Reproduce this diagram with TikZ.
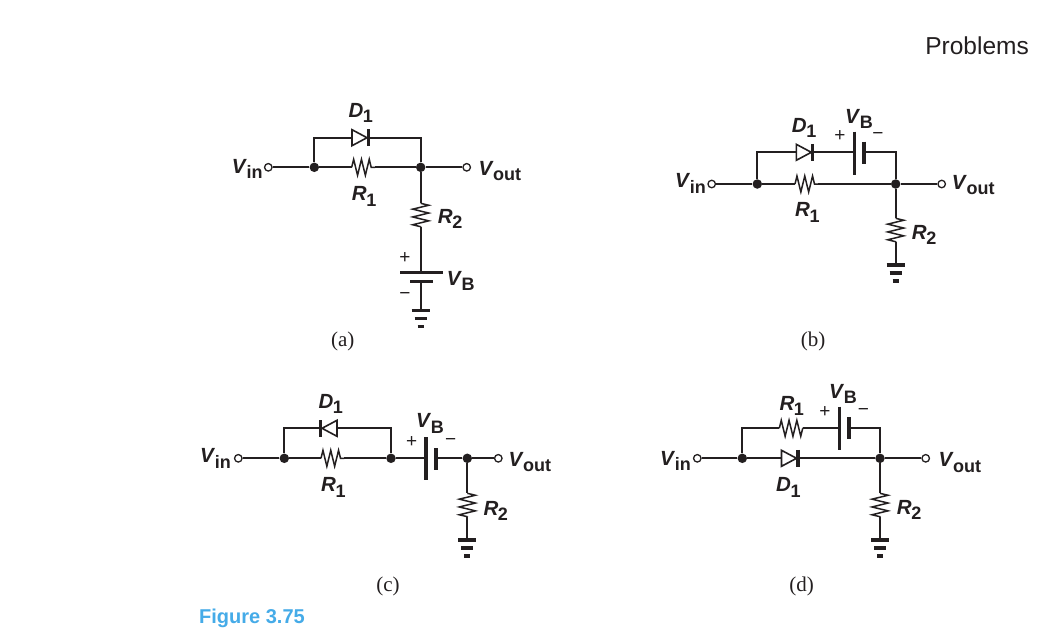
\documentclass[tikz,border=0pt]{standalone}
\usepackage{fontspec}
\setmainfont{Liberation Sans}
\newfontfamily\capfont{Liberation Serif}
\usetikzlibrary{decorations.pathmorphing}
\definecolor{ink}{HTML}{231F20}
\definecolor{figblue}{HTML}{45ABE8}
\newcommand{\sym}[2]{\fontsize{20.5}{20.5}\selectfont\textbf{\textit{#1}}\kern-0.4pt\raisebox{-5.6pt}{\fontsize{18}{18}\selectfont\textbf{#2}}}
\tikzset{
  x=1pt,y=-1pt,
  wire/.style={draw=ink,line width=1.7pt},
  res/.style={draw=ink,line width=1.5pt,line join=miter,decorate,decoration={zigzag,segment length=7.8pt,amplitude=8pt}},
  plate/.style={draw=ink,line width=3.4pt},
  dot/.style={circle,fill=ink,draw=none,minimum size=9.5pt,inner sep=0pt},
  term/.style={circle,draw=ink,fill=white,line width=1.3pt,minimum size=7.5pt,inner sep=0pt},
  lab/.style={anchor=base west,inner sep=0pt,text=ink},
  pol/.style={inner sep=0pt,text=ink,font=\fontsize{19}{19}\selectfont},
  capt/.style={inner sep=0pt,text=ink,font=\capfont\fontsize{21}{21}\selectfont},
  diode/.pic={
    \draw[draw=ink,line width=1.6pt,fill=white,line join=miter] (-16,-8) -- (-16,8) -- (-1,0) -- cycle;
    \draw[draw=ink,line width=3.2pt] (0.5,-8.5) -- (0.5,8.5);
  },
  gnd/.pic={
    \draw[draw=ink,line width=3.2pt] (-9,0) -- (9,0);
    \draw[draw=ink,line width=3.2pt] (-6,8) -- (6,8);
    \draw[draw=ink,line width=3.4pt] (-3,16) -- (3,16);
  }
}
\begin{document}
\begin{tikzpicture}
\useasboundingbox (0,0) rectangle (1058,630);
\fill[white] (0,0) rectangle (1058,630);

\node[anchor=base east,inner sep=0pt,text=ink,font=\fontsize{24.5}{24.5}\selectfont] (title) at (1029,54) {Problems};
\node[anchor=base west,inner sep=0pt,text=figblue,font=\fontsize{20}{20}\selectfont\bfseries] (fig) at (199,623) {Figure 3.75};

% ---------- (a)
\node[term] (ain) at (268.3,167.3) {};
\node[dot] (aj1) at (314.3,167.3) {};
\node[dot] (aj2) at (420.7,167.3) {};
\node[term] (aout) at (466.7,167.3) {};
\coordinate (atl) at (314.3,137.7);
\coordinate (atr) at (420.7,137.7);
\coordinate (ada) at (352,137.7);
\coordinate (adb) at (368,137.7);
\coordinate (ara) at (351.7,167.3);
\coordinate (arb) at (375,167.3);
\coordinate (asa) at (420.7,203.3);
\coordinate (asb) at (420.7,226.7);
\coordinate (abig) at (420.7,272.3);
\coordinate (asm) at (420.7,281.7);
\coordinate (ag) at (420.7,310.5);
\draw[wire] (ain) -- (aj1) -- (ara);
\draw[res] (ara) -- (arb);
\draw[wire] (arb) -- (aj2) -- (aout);
\draw[wire] (aj1) -- (atl) -- (ada);
\draw[wire] (adb) -- (atr) -- (aj2);
\pic at (adb) {diode};
\draw[wire] (aj2) -- (asa);
\draw[res] (asa) -- (asb);
\draw[wire] (asb) -- (abig);
\draw[wire] (asm) -- (ag);
\draw[plate] (400,272.3) -- (443.3,272.3);
\draw[plate] (410,281.7) -- (433.3,281.7);
\pic at (ag) {gnd};
\node[lab] (avin) at (231.7,173.3) {\sym{V}{in}};
\node[lab] (avout) at (478.3,175) {\sym{V}{out}};
\node[lab] (ad1) at (348.3,117) {\sym{D}{1}};
\node[lab] (ar1) at (351.7,200.7) {\sym{R}{1}};
\node[lab] (ar2) at (437.7,223.3) {\sym{R}{2}};
\node[lab] (avb) at (446.7,285) {\sym{V}{B}};
\node[pol] (ap) at (405,258) {+};
\node[pol] (am) at (405,296) {−};
\node[capt] (acap) at (342.7,341) {(a)};

% ---------- (b)
\node[term] (bin) at (711.7,184) {};
\node[dot] (bj1) at (757.3,184) {};
\node[dot] (bj2) at (895.7,184) {};
\node[term] (bout) at (941.7,184) {};
\coordinate (btl) at (757.3,152.3);
\coordinate (btr) at (895.7,152.3);
\coordinate (bda) at (796,152.3);
\coordinate (bdb) at (812.3,152.3);
\coordinate (bbig) at (854.3,152.3);
\coordinate (bsm) at (864,152.3);
\coordinate (bra) at (795,184);
\coordinate (brb) at (818.3,184);
\coordinate (bsa) at (895.7,218.3);
\coordinate (bsb) at (895.7,242);
\coordinate (bg) at (895.7,265);
\draw[wire] (bin) -- (bj1) -- (bra);
\draw[res] (bra) -- (brb);
\draw[wire] (brb) -- (bj2) -- (bout);
\draw[wire] (bj1) -- (btl) -- (bda);
\draw[wire] (bdb) -- (bbig);
\draw[wire] (bsm) -- (btr) -- (bj2);
\pic at (bdb) {diode};
\draw[plate] (854.3,131.5) -- (854.3,175);
\draw[plate] (864,141.7) -- (864,164);
\draw[wire] (bj2) -- (bsa);
\draw[res] (bsa) -- (bsb);
\draw[wire] (bsb) -- (bg);
\pic at (bg) {gnd};
\node[lab] (bvin) at (675,187.7) {\sym{V}{in}};
\node[lab] (bvout) at (951.7,189) {\sym{V}{out}};
\node[lab] (bd1) at (791.7,132.3) {\sym{D}{1}};
\node[lab] (br1) at (795,216.7) {\sym{R}{1}};
\node[lab] (br2) at (911.7,239.3) {\sym{R}{2}};
\node[lab] (bvb) at (845,123.3) {\sym{V}{B}};
\node[pol] (bp) at (840,136) {+};
\node[pol] (bm) at (878,136) {−};
\node[capt] (bcap) at (813,341) {(b)};

% ---------- (c)
\node[term] (cin) at (238.3,458.3) {};
\node[dot] (cj1) at (284.3,458.3) {};
\node[dot] (cj2) at (391,458.3) {};
\node[dot] (cj3) at (467.3,458.3) {};
\node[term] (cout) at (498.3,458.3) {};
\coordinate (ctl) at (284.3,428.3);
\coordinate (ctr) at (391,428.3);
\coordinate (cda) at (321,428.3);
\coordinate (cdb) at (338,428.3);
\coordinate (cra) at (321,458.3);
\coordinate (crb) at (344.3,458.3);
\coordinate (cbig) at (426,458.3);
\coordinate (csm) at (436,458.3);
\coordinate (csa) at (467.3,493.3);
\coordinate (csb) at (467.3,516.7);
\coordinate (cg) at (467.3,540);
\draw[wire] (cin) -- (cj1) -- (cra);
\draw[res] (cra) -- (crb);
\draw[wire] (crb) -- (cj2) -- (cbig);
\draw[wire] (csm) -- (cj3) -- (cout);
\draw[wire] (cj1) -- (ctl) -- (cda);
\draw[wire] (cdb) -- (ctr) -- (cj2);
\pic[rotate=180] at (cda) {diode};
\draw[plate] (426,437.3) -- (426,480);
\draw[plate] (436,448.3) -- (436,470);
\draw[wire] (cj3) -- (csa);
\draw[res] (csa) -- (csb);
\draw[wire] (csb) -- (cg);
\pic at (cg) {gnd};
\node[lab] (cvin) at (200,462.7) {\sym{V}{in}};
\node[lab] (cvout) at (508.3,466) {\sym{V}{out}};
\node[lab] (cd1) at (318.3,408.3) {\sym{D}{1}};
\node[lab] (cr1) at (321,491.7) {\sym{R}{1}};
\node[lab] (cr2) at (483.3,515) {\sym{R}{2}};
\node[lab] (cvb) at (416,427.7) {\sym{V}{B}};
\node[pol] (cp) at (411.7,442.3) {+};
\node[pol] (cm) at (450.7,442.3) {−};
\node[capt] (ccap) at (388,586) {(c)};

% ---------- (d)
\node[term] (din) at (697.3,458.3) {};
\node[dot] (dj1) at (742.3,458.3) {};
\node[dot] (dj2) at (880,458.3) {};
\node[term] (dout) at (925.7,458.3) {};
\coordinate (dtl) at (742.3,428.3);
\coordinate (dtr) at (880,428.3);
\coordinate (dra) at (779.3,428.3);
\coordinate (drb) at (802.7,428.3);
\coordinate (dbig) at (839.3,428.3);
\coordinate (dsm) at (849,428.3);
\coordinate (dda) at (781,458.3);
\coordinate (ddb) at (797.5,458.3);
\coordinate (dsa) at (880,493.3);
\coordinate (dsb) at (880,516.7);
\coordinate (dg) at (880,540);
\draw[wire] (din) -- (dj1) -- (dda);
\draw[wire] (ddb) -- (dj2) -- (dout);
\pic at (ddb) {diode};
\draw[wire] (dj1) -- (dtl) -- (dra);
\draw[res] (dra) -- (drb);
\draw[wire] (drb) -- (dbig);
\draw[wire] (dsm) -- (dtr) -- (dj2);
\draw[plate] (839.3,406.7) -- (839.3,450);
\draw[plate] (849,417.3) -- (849,439.3);
\draw[wire] (dj2) -- (dsa);
\draw[res] (dsa) -- (dsb);
\draw[wire] (dsb) -- (dg);
\pic at (dg) {gnd};
\node[lab] (dvin) at (660,465) {\sym{V}{in}};
\node[lab] (dvout) at (938.3,466.7) {\sym{V}{out}};
\node[lab] (dd1) at (776,491.7) {\sym{D}{1}};
\node[lab] (dr1) at (779.3,410) {\sym{R}{1}};
\node[lab] (dr2) at (896.7,514) {\sym{R}{2}};
\node[lab] (dvb) at (829,398.3) {\sym{V}{B}};
\node[pol] (dp) at (825,411.7) {+};
\node[pol] (dm) at (863.3,411.7) {−};
\node[capt] (dcap) at (801.7,586) {(d)};
\end{tikzpicture}
\end{document}
